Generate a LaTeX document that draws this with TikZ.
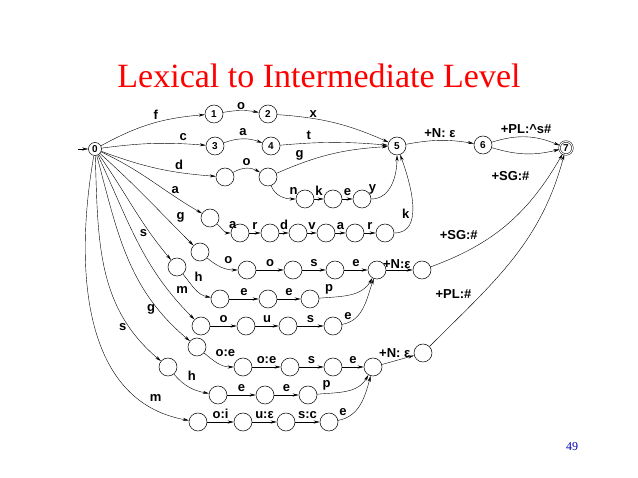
\documentclass[tikz,border=0pt]{standalone}
\usepackage{fontspec}
\setmainfont{Liberation Sans}
\newfontfamily\tfont{Liberation Serif}
\usetikzlibrary{arrows.meta}
\begin{document}
\begin{tikzpicture}[x=1pt,y=-1pt,
 st/.style={circle,draw,line width=0.5pt,minimum size=18pt,inner sep=0pt,font=\bfseries\fontsize{10}{10}\selectfont},
 sm/.style={st,minimum size=13pt},
 e/.style={draw,line width=0.4pt,-{Stealth[length=6pt,width=3pt]}},
 l/.style={font=\bfseries\fontsize{13}{13}\selectfont,inner sep=3pt}]
\useasboundingbox (0,0) rectangle (638,478);
\node[text=red,font=\tfont\fontsize{34}{34}\selectfont] (title) at (319,76) {Lexical to Intermediate Level};
\node[text=blue!70!black,font=\tfont\fontsize{12}{12}\selectfont] (pg) at (572,447) {49};
\node[sm] (s0) at (95,149) {0};
\coordinate (in) at (78,149);
\node[st] (s1) at (214,114) {1};
\node[st] (s2) at (268,114) {2};
\node[st] (s3) at (215,146) {3};
\node[st] (s4) at (271,146) {4};
\node[st] (s5) at (397,146) {5};
\node[st] (s6) at (483,145) {6};
\node[sm,double,double distance=1pt] (s7) at (566,148) {7};
\node[st] (d1) at (225,177) {};
\node[st] (d2) at (268,177) {};
\node[st] (n1) at (305,199) {};
\node[st] (n2) at (333,199) {};
\node[st] (n3) at (362,199) {};
\node[st] (a1) at (210,218) {};
\foreach \i/\x in {1/240,2/270,3/298,4/326,5/355,6/385}{\node[st] (aa\i) at (\x,233) {};}
\node[st] (g1) at (200,252) {};
\foreach \i/\x in {1/247,2/293,3/335,4/377}{\node[st] (go\i) at (\x,270) {};}
\node[st] (N1) at (422,270) {};
\node[st] (h1) at (177,267) {};
\foreach \i/\x in {1/220,2/268,3/310}{\node[st] (he\i) at (\x,299) {};}
\node[st] (m1) at (201,326) {};
\foreach \i/\x in {1/246,2/288,3/333}{\node[st] (mo\i) at (\x,326) {};}
\node[st] (g2) at (197,347) {};
\foreach \i/\x in {1/243,2/290,3/333,4/373}{\node[st] (ge\i) at (\x,367) {};}
\node[st] (N2) at (423,353) {};
\node[st] (h2) at (168,367) {};
\foreach \i/\x in {1/218,2/265,3/308}{\node[st] (hh\i) at (\x,395) {};}
\node[st] (m2) at (198,422) {};
\foreach \i/\x in {1/243,2/286,3/329}{\node[st] (mi\i) at (\x,422) {};}

\draw[e] (in) -- (s0);
\draw[e] (s0) to[bend left=12] node[l,above,pos=0.55]{f} (s1);
\draw[e] (s1) to[bend left=10] node[l,above,inner sep=1pt]{o} (s2);
\draw[e] (s2) to[bend left=10] node[l,above,pos=0.3,inner sep=1pt]{x} (s5);
\draw[e] (s0) to[bend left=6] node[l,above,pos=0.8]{c} (s3);
\draw[e] (s3) to[bend left=20] node[l,above]{a} (s4);
\draw[e] (s4) to[bend left=5] node[l,above,pos=0.25]{t} (s5);
\draw[e] (s0) to[bend right=8] node[l,above,pos=0.7]{d} (d1);
\draw[e] (d1) to[bend left=30] node[l,above]{o} (d2);
\draw[e] (d2) to[bend left=10] node[l,above,pos=0.2]{g} (s5);
\draw[e] (d2) to[out=-70,in=180] node[l,above right,pos=0.7]{n} (n1);
\draw[e] (n1) -- node[l,above]{k} (n2);
\draw[e] (n2) -- node[l,above]{e} (n3);
\draw[e] (n3) to[out=0,in=-90] node[l,above left,pos=0.15]{y} (s5);
\draw[e] (s0) to[out=-25,in=150] node[l,above,pos=0.75]{a} (a1);
\draw[e] (a1) to[out=-40,in=180] node[l,above right,pos=0.7]{a} (aa1);
\draw[e] (aa1) -- node[l,above]{r} (aa2);
\draw[e] (aa2) -- node[l,above]{d} (aa3);
\draw[e] (aa3) -- node[l,above]{v} (aa4);
\draw[e] (aa4) -- node[l,above]{a} (aa5);
\draw[e] (aa5) -- node[l,above]{r} (aa6);
\draw[e] (aa6) to[out=0,in=-70] node[l,left,pos=0.4]{k} (s5);
\draw[e] (s0) to[out=-42,in=135] node[l,above right,pos=0.8]{g} (g1);
\draw[e] (g1) to[out=-40,in=180] node[l,above right,pos=0.5]{o} (go1);
\draw[e] (go1) -- node[l,above]{o} (go2);
\draw[e] (go2) -- node[l,above]{s} (go3);
\draw[e] (go3) -- node[l,above]{e} (go4);
\draw[e] (go4) -- node[l,above,pos=0.4,inner sep=1pt]{+N:ε} (N1);
\draw[e] (s0) to[out=-55,in=130] node[l,left,pos=0.75]{s} (h1);
\draw[e] (h1) to[out=-50,in=170] node[l,above right,pos=0.35]{h} (he1);
\draw[e] (he1) -- node[l,above]{e} (he2);
\draw[e] (he2) -- node[l,above]{e} (he3);
\draw[e] (he3) to[out=5,in=-120] node[l,above,pos=0.15]{p} (go4);
\draw[e] (s0) to[out=-65,in=135] node[l,above right,pos=0.85]{m} (m1);
\draw[e] (m1) -- node[l,above]{o} (mo1);
\draw[e] (mo1) -- node[l,above]{u} (mo2);
\draw[e] (mo2) -- node[l,above]{s} (mo3);
\draw[e] (mo3) to[out=10,in=-110] node[l,above,pos=0.1]{e} (go4);
\draw[e] (N1) to[out=20,in=-120] node[l,above left,pos=0.3]{+SG:\#} (s7);
\draw[e] (s0) to[out=-75,in=140] node[l,left,pos=0.8]{g} (g2);
\draw[e] (g2) to[out=-40,in=180] node[l,above right,pos=0.3]{o:e} (ge1);
\draw[e] (ge1) -- node[l,above]{o:e} (ge2);
\draw[e] (ge2) -- node[l,above]{s} (ge3);
\draw[e] (ge3) -- node[l,above]{e} (ge4);
\draw[e] (ge4) -- node[l,above,pos=0.4]{+N: ε} (N2);
\draw[e] (N2) to[out=45,in=-105] node[l,above left,pos=0.25]{+PL:\#} (s7);
\draw[e] (s0) to[out=-88,in=140] node[l,left,pos=0.8]{s} (h2);
\draw[e] (h2) to[out=-50,in=170] node[l,above right,pos=0.35]{h} (hh1);
\draw[e] (hh1) -- node[l,above]{e} (hh2);
\draw[e] (hh2) -- node[l,above]{e} (hh3);
\draw[e] (hh3) to[out=5,in=-120] node[l,above,pos=0.15]{p} (ge4);
\draw[e] (s0) to[out=-100,in=170] node[l,above right,pos=0.85]{m} (m2);
\draw[e] (m2) -- node[l,above]{o:i} (mi1);
\draw[e] (mi1) -- node[l,above]{u:ε} (mi2);
\draw[e] (mi2) -- node[l,above]{s:c} (mi3);
\draw[e] (mi3) to[out=10,in=-105] node[l,above,pos=0.08]{e} (ge4);
\draw[e] (s5) to[bend left=10] node[l,above,pos=0.5]{+N: ε} (s6);
\draw[e] (s6) to[bend left=20] node[l,above]{+PL:\^{}s\#} (s7);
\draw[e] (s6) to[bend right=15] node[l,below left,pos=0.55,yshift=-14pt,xshift=4pt]{+SG:\#} (s7);
\end{tikzpicture}
\end{document}
